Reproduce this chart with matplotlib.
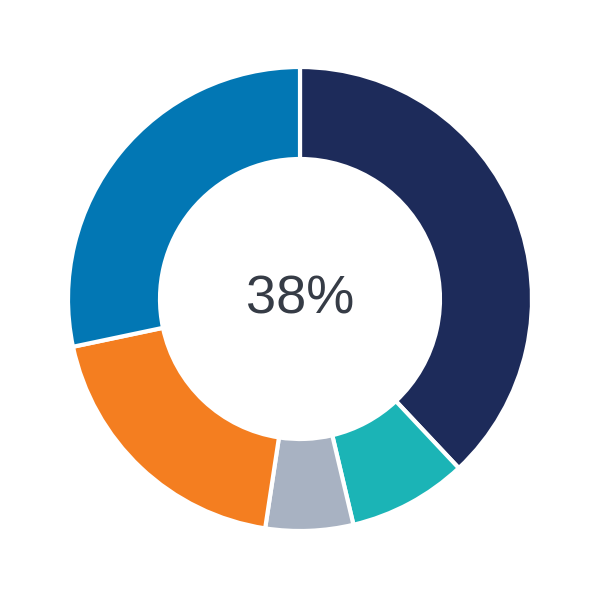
import matplotlib.pyplot as plt

# Slice values (percent), clockwise from 12 o'clock
values = [38.0, 8.3, 6.1, 19.3, 28.3]
colors = ['#1d2b5a', '#1bb4b6', '#a8b2c2', '#f47e20', '#0277b4']
center_label = "38%"

fig = plt.figure(figsize=(6, 6), dpi=100)
ax = fig.add_axes([0, 0, 1, 1])

outer_r = 232
ring_w = 92

ax.pie(values, colors=colors, radius=outer_r, center=(0, 1),
       startangle=90, counterclock=False, frame=True,
       wedgeprops=dict(width=ring_w, edgecolor='white', linewidth=3))
ax.set_xlim(-300, 300)
ax.set_ylim(-300, 300)
ax.set_aspect('equal')
ax.axis('off')

ax.text(0, 1, center_label, ha='center', va='center', fontsize=39,
        color='#363c46', family='Liberation Sans')

plt.savefig('out.png', dpi=100)
